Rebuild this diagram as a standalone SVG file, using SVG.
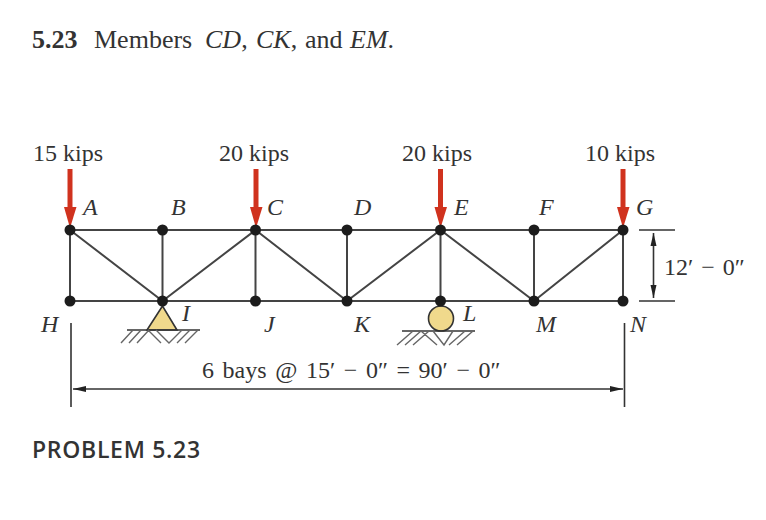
<svg xmlns="http://www.w3.org/2000/svg" width="766" height="520" viewBox="0 0 766 520">
<defs>
<style>
.t{font-family:"Liberation Serif","Times New Roman",serif;fill:#333;font-size:24px}
.i{font-style:italic;font-size:24px}
.m{fill:none;stroke:#444;stroke-width:2}
.d{fill:none;stroke:#333;stroke-width:1.6}
.h{fill:none;stroke:#666;stroke-width:1.4}
.j{fill:#1c1c1c}
.f{fill:none;stroke:#d0321e;stroke-width:5}
.fh{fill:#d0321e}
</style>
<marker id="da" markerWidth="14" markerHeight="8" refX="13" refY="4" orient="auto-start-reverse" markerUnits="userSpaceOnUse"><path d="M0 1 L13 4 L0 7 Z" fill="#222"/></marker>
</defs>
<rect width="766" height="520" fill="#fff"/>
<text x="32" y="48" class="t" style="font-size:26px;font-weight:bold">5.23</text>
<text y="48" class="t" style="font-size:26px"><tspan x="94">Members</tspan><tspan x="205" font-style="italic">CD</tspan>,<tspan x="256" font-style="italic">CK</tspan>,<tspan x="305">and</tspan><tspan x="350" font-style="italic">EM</tspan>.</text>

<g id="connectors">
<path class="m" d="M70 230H623M70 301H623M70 230V301M162.500 230V301M255.500 230V301M347 230V301M440.500 230V301M534 230V301M623 230V301"/>
<path class="m" d="M70 230L162.500 301L255.500 230L347 301L440.500 230L534 301L623 230"/>
<path class="d" d="M71 323V407M624.500 323V407M639 230H675M639 301H675"/>
<path class="d" marker-start="url(#da)" marker-end="url(#da)" d="M653.500 233V298"/>
<path class="d" marker-start="url(#da)" marker-end="url(#da)" d="M73 389H623"/>
</g>

<g id="load-A"><path class="f" d="M70 169V212"/><path class="fh" d="M64 207H76.500L70 228Z"/><text x="68" y="161" text-anchor="middle" class="t">15 kips</text></g>
<g id="load-C"><path class="f" d="M256 169V212"/><path class="fh" d="M250 207H262.500L256 228Z"/><text x="254" y="161" text-anchor="middle" class="t">20 kips</text></g>
<g id="load-E"><path class="f" d="M440.500 169V212"/><path class="fh" d="M434.500 207H447L440.500 228Z"/><text x="437" y="161" text-anchor="middle" class="t">20 kips</text></g>
<g id="load-G"><path class="f" d="M623 169V212"/><path class="fh" d="M617 207H629.500L623 228Z"/><text x="620" y="161" text-anchor="middle" class="t">10 kips</text></g>

<g id="support-I">
<path d="M162.500 306L147 330H177Z" fill="#f0d98c" stroke="#333" stroke-width="1.6"/>
<path class="d" d="M127 330H200"/>
<path class="h" d="M133 330L121 343M141 330L129 343M149 330L137 343M148 330L161 343M156 330L169 343L182 330M190 330L177 343M198 330L185 343"/>
</g>
<g id="support-L">
<circle cx="441" cy="318.500" r="12.500" fill="#f0d98c" stroke="#333" stroke-width="1.6"/>
<path class="d" d="M402 331H475"/>
<path class="h" d="M413 331L397 345M421 331L405 345M429 331L413 345M421 331L437 345M433 331L444 345L453 331M465 331L449 345M473 331L457 345"/>
</g>

<g id="node-A"><circle class="j" cx="70" cy="230" r="5.500"/><text x="83" y="215" class="t i">A</text></g>
<g id="node-B"><circle class="j" cx="162.500" cy="230" r="5.500"/><text x="171" y="215" class="t i">B</text></g>
<g id="node-C"><circle class="j" cx="255.500" cy="230" r="5.500"/><text x="267" y="215" class="t i">C</text></g>
<g id="node-D"><circle class="j" cx="347" cy="230" r="5.500"/><text x="354" y="215" class="t i">D</text></g>
<g id="node-E"><circle class="j" cx="440.500" cy="230" r="5.500"/><text x="454" y="215" class="t i">E</text></g>
<g id="node-F"><circle class="j" cx="534" cy="230" r="5.500"/><text x="539" y="215" class="t i">F</text></g>
<g id="node-G"><circle class="j" cx="623" cy="230" r="5.500"/><text x="636" y="215" class="t i">G</text></g>
<g id="node-H"><circle class="j" cx="70" cy="301" r="5.500"/><text x="41" y="332" class="t i">H</text></g>
<g id="node-I"><circle class="j" cx="162.500" cy="301" r="5.500"/><text x="182" y="321" class="t i">I</text></g>
<g id="node-J"><circle class="j" cx="255.500" cy="301" r="5.500"/><text x="264" y="332" class="t i">J</text></g>
<g id="node-K"><circle class="j" cx="347" cy="301" r="5.500"/><text x="354" y="332" class="t i">K</text></g>
<g id="node-L"><circle class="j" cx="440.500" cy="301" r="5.500"/><text x="463" y="321" class="t i">L</text></g>
<g id="node-M"><circle class="j" cx="534" cy="301" r="5.500"/><text x="536" y="332" class="t i">M</text></g>
<g id="node-N"><circle class="j" cx="623" cy="301" r="5.500"/><text x="630" y="332" class="t i">N</text></g>

<text x="664" y="275" class="t" style="word-spacing:2px">12′ − 0″</text>
<text x="202" y="378" class="t" style="word-spacing:2.600px">6 bays @ 15′ − 0″ = 90′ − 0″</text>
<text x="32" y="458" style="font-family:'Open Sans',Arial,sans-serif;font-size:23px;font-weight:600;fill:#333;letter-spacing:.7px">PROBLEM 5.23</text>
</svg>
